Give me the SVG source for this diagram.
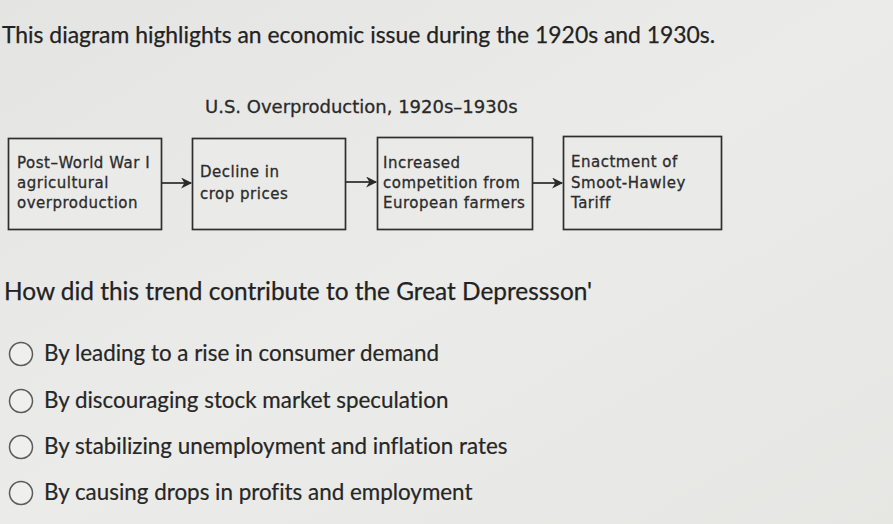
<svg xmlns="http://www.w3.org/2000/svg" width="893" height="524" viewBox="0 0 893 524">
<defs>
<linearGradient id="bg" x1="0" y1="0" x2="1" y2="1">
<stop offset="0" stop-color="#e4e4e2"/>
<stop offset="0.5" stop-color="#ebebe9"/>
<stop offset="1" stop-color="#e6e6e3"/>
</linearGradient>
<marker id="ah" viewBox="0 0 10 10" refX="9" refY="5" markerWidth="12" markerHeight="11" markerUnits="userSpaceOnUse" orient="auto">
<path d="M0,0 L10,5 L0,10 L3,5 z" fill="#2a2a2a"/>
</marker>
<style>
.box{fill:#eaeae8;stroke:#2e2e2e;stroke-width:1.7}
.bt{font-family:"DejaVu Sans",Verdana,sans-serif;font-size:15px;letter-spacing:0.5px;fill:#2c2c2c;stroke:#2c2c2c;stroke-width:0.3}
.q{font-family:Lato,"Open Sans",sans-serif;fill:#222;stroke:#222;stroke-width:0.25;font-variant-ligatures:none}
.opt{font-family:Lato,"Open Sans",sans-serif;font-size:22.4px;fill:#262626;stroke:#262626;stroke-width:0.2;font-variant-ligatures:none}
.rad{fill:#efefed;stroke:#5a5a5a;stroke-width:1.5}
.con{stroke:#2a2a2a;stroke-width:1.7;fill:none;marker-end:url(#ah)}
</style>
</defs>
<rect width="893" height="524" fill="url(#bg)"/>
<text class="q" x="2" y="43" font-size="22.9">This diagram highlights an economic issue during the 1920s and 1930s.</text>
<text x="205" y="113" font-family="DejaVu Sans,Verdana,sans-serif" font-size="18" fill="#2a2a2a" stroke="#2a2a2a" stroke-width="0.3">U.S. Overproduction, 1920s–1930s</text>
<g id="node1">
<rect class="box" x="8.5" y="138.5" width="153" height="91"/>
<text class="bt" x="17" y="168">Post–World War I</text>
<text class="bt" x="17" y="188">agricultural</text>
<text class="bt" x="17" y="208">overproduction</text>
</g>
<g id="node2">
<rect class="box" x="192.5" y="138.5" width="153" height="91"/>
<text class="bt" x="200" y="177">Decline in</text>
<text class="bt" x="200" y="199">crop prices</text>
</g>
<g id="node3">
<rect class="box" x="377.5" y="137.5" width="155" height="92"/>
<text class="bt" x="383" y="168">Increased</text>
<text class="bt" x="383" y="188">competition from</text>
<text class="bt" x="383" y="208">European farmers</text>
</g>
<g id="node4">
<rect class="box" x="563.5" y="136.5" width="158" height="93"/>
<text class="bt" x="571" y="167">Enactment of</text>
<text class="bt" x="571" y="188">Smoot-Hawley</text>
<text class="bt" x="571" y="208">Tariff</text>
</g>
<g id="connectors">
<line class="con" x1="162" y1="183" x2="191" y2="183"/>
<line class="con" x1="346" y1="182" x2="376" y2="182"/>
<line class="con" x1="533" y1="183" x2="562" y2="183"/>
</g>
<text class="q" x="4" y="300" font-size="24.4">How did this trend contribute to the Great Depressson'</text>
<g id="options">
<circle class="rad" cx="21" cy="354" r="11.5"/>
<text class="opt" x="44" y="361">By leading to a rise in consumer demand</text>
<circle class="rad" cx="21" cy="401" r="11.5"/>
<text class="opt" x="44" y="408">By discouraging stock market speculation</text>
<circle class="rad" cx="21" cy="447" r="11.5"/>
<text class="opt" x="44" y="454">By stabilizing unemployment and inflation rates</text>
<circle class="rad" cx="21" cy="493" r="11.5"/>
<text class="opt" x="44" y="500">By causing drops in profits and employment</text>
</g>
</svg>
